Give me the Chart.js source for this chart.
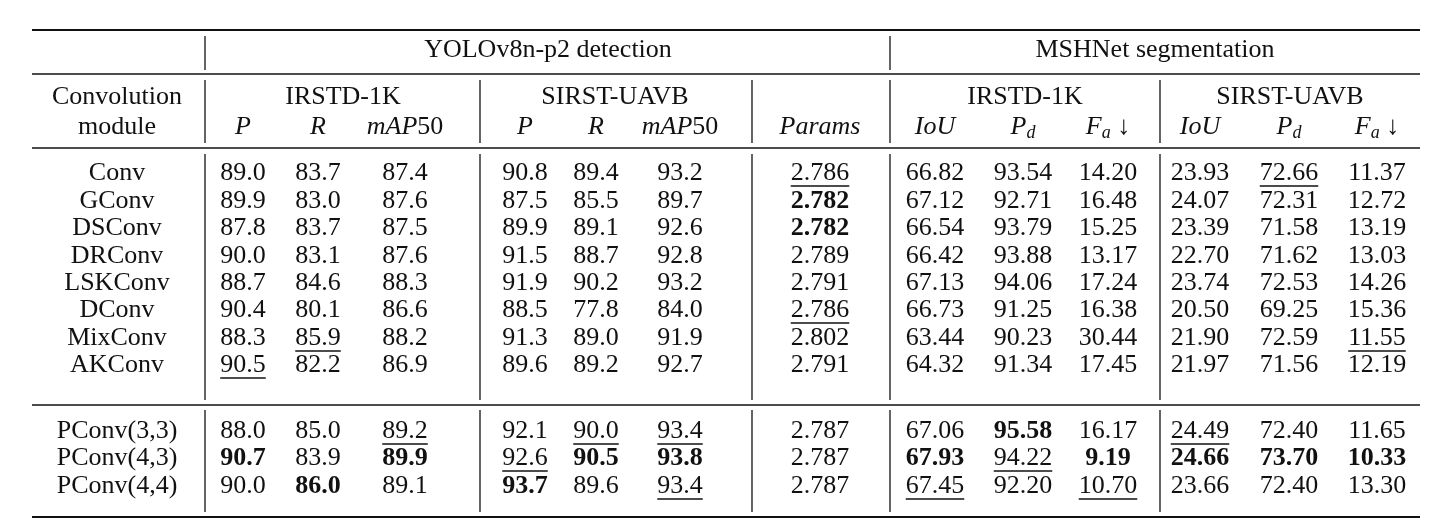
<!DOCTYPE html>
<html><head><meta charset="utf-8">
<script src="https://cdn.jsdelivr.net/npm/chart.js@4"></script>
<style>html,body{margin:0;padding:0;background:#fff}canvas{display:block}</style>
</head><body>
<canvas id="c" width="1440" height="531"></canvas>
<script>
const modules = ["Conv","GConv","DSConv","DRConv","LSKConv","DConv","MixConv","AKConv","PConv(3,3)","PConv(4,3)","PConv(4,4)"];
const yoloIrstd = [["89.0","83.7","87.4"],["89.9","83.0","87.6"],["87.8","83.7","87.5"],["90.0","83.1","87.6"],["88.7","84.6","88.3"],["90.4","80.1","86.6"],["88.3","85.9","88.2"],["90.5","82.2","86.9"],["88.0","85.0","89.2"],["90.7","83.9","89.9"],["90.0","86.0","89.1"]];
const yoloSirst = [["90.8","89.4","93.2"],["87.5","85.5","89.7"],["89.9","89.1","92.6"],["91.5","88.7","92.8"],["91.9","90.2","93.2"],["88.5","77.8","84.0"],["91.3","89.0","91.9"],["89.6","89.2","92.7"],["92.1","90.0","93.4"],["92.6","90.5","93.8"],["93.7","89.6","93.4"]];
const params = ["2.786","2.782","2.782","2.789","2.791","2.786","2.802","2.791","2.787","2.787","2.787"];
const mshIrstd = [["66.82","93.54","14.20"],["67.12","92.71","16.48"],["66.54","93.79","15.25"],["66.42","93.88","13.17"],["67.13","94.06","17.24"],["66.73","91.25","16.38"],["63.44","90.23","30.44"],["64.32","91.34","17.45"],["67.06","95.58","16.17"],["67.93","94.22","9.19"],["67.45","92.20","10.70"]];
const mshSirst = [["23.93","72.66","11.37"],["24.07","72.31","12.72"],["23.39","71.58","13.19"],["22.70","71.62","13.03"],["23.74","72.53","14.26"],["20.50","69.25","15.36"],["21.90","72.59","11.55"],["21.97","71.56","12.19"],["24.49","72.40","11.65"],["24.66","73.70","10.33"],["23.66","72.40","13.30"]];
// emphasis per cell: b=bold, u=underline (13 value columns)
const emphasis = [
 "------u----u-","------b------","------b------","-------------","-------------","------u------","-u----------u","u------------",
 "--u-uu--b-u--","b-bubb-bubbbb","-b-b-u-u-u---"];

const colX = [117,243,318,405,525,596,680,820,935,1023,1108,1200,1289,1377];
const rowY = [173,201,228,256,283,310,338,365,431,458,486];

const cells = [];
modules.forEach((m,r)=>{
  const vals=[m,...yoloIrstd[r],...yoloSirst[r],params[r],...mshIrstd[r],...mshSirst[r]];
  vals.forEach((v,c)=>cells.push({x:colX[c],y:rowY[r],t:v,e:c===0?'-':emphasis[r][c-1]}));
});

const SERIF='"Liberation Serif","DejaVu Serif",serif';
const FS=26;
function parts(ctx,x,y,ps){
  let w=0; ps.forEach(p=>{ctx.font=(p.i?'italic ':'')+(p.s?18:FS)+'px '+SERIF; p.w=ctx.measureText(p.t).width; w+=p.w;});
  let cx=x-w/2; ctx.textAlign='left';
  ps.forEach(p=>{ctx.font=(p.i?'italic ':'')+(p.s?18:FS)+'px '+SERIF; ctx.fillText(p.t,cx,y+(p.s?6:0)); cx+=p.w;});
}
const tablePlugin={id:'table',afterDatasetsDraw(chart){
  const ctx=chart.ctx, xs=chart.scales.x, ys=chart.scales.y;
  const X=v=>xs.getPixelForValue(v), Y=v=>ys.getPixelForValue(v);
  ctx.save(); ctx.fillStyle='#111'; ctx.strokeStyle='#111'; ctx.textBaseline='middle';
  const hl=(y,w,x0=32,x1=1420)=>{ctx.lineWidth=w;ctx.beginPath();ctx.moveTo(X(x0),Y(y));ctx.lineTo(X(x1),Y(y));ctx.stroke();};
  const vl=(x,y0,y1)=>{ctx.lineWidth=1.3;ctx.beginPath();ctx.moveTo(X(x),Y(y0));ctx.lineTo(X(x),Y(y1));ctx.stroke();};
  hl(30,2.2); hl(74,1.3); hl(148,1.3); hl(405,1.3); hl(517,2.2);
  vl(205,36,70); vl(890,36,70);
  [205,480,752,890,1160].forEach(x=>{vl(x,80,143);vl(x,154,400);vl(x,410,512);});
  ctx.textAlign='center'; ctx.font=FS+'px '+SERIF;
  ctx.fillText('YOLOv8n-p2 detection',X(548),Y(50));
  ctx.fillText('MSHNet segmentation',X(1155),Y(50));
  ctx.fillText('Convolution',X(117),Y(97)); ctx.fillText('module',X(117),Y(127));
  ctx.fillText('IRSTD-1K',X(343),Y(97)); ctx.fillText('SIRST-UAVB',X(615),Y(97));
  ctx.fillText('IRSTD-1K',X(1025),Y(97)); ctx.fillText('SIRST-UAVB',X(1290),Y(97));
  const hy=Y(127);
  const P=[{t:'P',i:1}],R=[{t:'R',i:1}],M=[{t:'mAP',i:1},{t:'50'}];
  const I=[{t:'IoU',i:1}],PD=[{t:'P',i:1},{t:'d',i:1,s:1}],FA=[{t:'F',i:1},{t:'a',i:1,s:1},{t:' ↓'}];
  [P,R,M,P,R,M,[{t:'Params',i:1}],I,PD,FA,I,PD,FA].forEach((p,k)=>parts(ctx,X(colX[k+1]),hy,p.map(o=>({...o}))));
  chart.getDatasetMeta(0).data.forEach((pt,i)=>{
    const c=cells[i]; ctx.textAlign='center';
    ctx.font=(c.e==='b'?'bold ':'')+FS+'px '+SERIF; ctx.fillText(c.t,pt.x,pt.y);
    if(c.e==='u'){const w=ctx.measureText(c.t).width;ctx.lineWidth=1.3;ctx.beginPath();ctx.moveTo(pt.x-w/2,pt.y+13);ctx.lineTo(pt.x+w/2,pt.y+13);ctx.stroke();}
  });
  ctx.restore();
}};
new Chart(document.getElementById('c'),{
  type:'scatter',
  data:{datasets:[{data:cells.map(c=>({x:c.x,y:c.y})),pointRadius:0,pointHoverRadius:0}]},
  options:{responsive:false,animation:false,devicePixelRatio:1,layout:{padding:0},
    events:[],
    plugins:{legend:{display:false},tooltip:{enabled:false}},
    scales:{x:{type:'linear',min:0,max:1440,display:false},y:{type:'linear',min:0,max:531,reverse:true,display:false}}},
  plugins:[tablePlugin]
});
</script></body></html>
